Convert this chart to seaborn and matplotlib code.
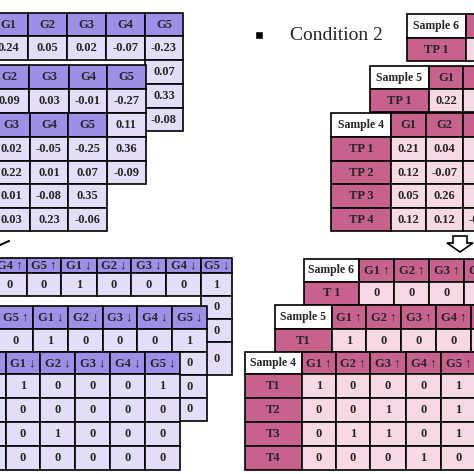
import matplotlib
matplotlib.use("Agg")
import matplotlib.pyplot as plt
import seaborn as sns
from matplotlib.patches import Rectangle, Polygon

sns.set_theme(style="white")
plt.rcParams["font.family"] = ["Liberation Serif", "DejaVu Serif"]

# ---- data ----
genes = ["G1", "G2", "G3", "G4", "G5"]
up = [g + " ↑" for g in genes]
down = [g + " ↓" for g in genes]

c1_s3_vals = [["0.24", "0.05", "0.02", "-0.07", "-0.23"],
              ["", "", "", "", "0.07"],
              ["", "", "", "", "0.33"],
              ["", "", "", "", "-0.08"]]
c1_s2_vals = [["0.09", "0.03", "-0.01", "-0.27"],
              ["", "", "", "0.11"],
              ["", "", "", "0.36"],
              ["", "", "", "-0.09"]]
c1_s1_vals = [["0.02", "-0.05", "-0.25"],
              ["0.22", "0.01", "0.07"],
              ["0.01", "-0.08", "0.35"],
              ["0.03", "0.23", "-0.06"]]

c1_b3_vals = [["0", "0", "1", "0", "0", "0", "1"],
              ["", "", "", "", "", "", "0"],
              ["", "", "", "", "", "", "0"],
              ["", "", "", "", "", "", "0"]]
c1_b2_vals = [["0", "1", "0", "0", "0", "1"],
              ["", "", "", "", "", "0"],
              ["", "", "", "", "", "0"],
              ["", "", "", "", "", "0"]]
c1_b1_vals = [["", "1", "0", "0", "0", "1"],
              ["", "0", "0", "0", "0", "0"],
              ["", "0", "1", "0", "0", "0"],
              ["", "0", "0", "0", "0", "0"]]

tp_labels = ["TP 1", "TP 2", "TP 3", "TP 4"]
t_labels = ["T1", "T2", "T3", "T4"]
c2_s6_vals = [[""]]
c2_s5_vals = [["0.22", ""]]
c2_s4_vals = [["0.21", "0.04", ""],
              ["0.12", "-0.07", ""],
              ["0.05", "0.26", ""],
              ["0.12", "0.12", "-0.05"]]
c2_b6_vals = [["0", "0", "0", ""]]
c2_b5_vals = [["1", "0", "0", "0", ""]]
c2_b4_vals = [["1", "0", "0", "0", "1"],
              ["0", "0", "1", "0", "1"],
              ["0", "1", "1", "0", "1"],
              ["0", "0", "0", "1", "0"]]

purple_hdr = "#9d8ee6"
purple_cell = "#e4ddf7"
pink_hdr = "#c6628c"
pink_cell = "#f6d9e5"
FS = 9


def cell(ax, x0, x1, y0, y1, color, text, fs=FS):
    ax.add_patch(Rectangle((x0, y0), x1 - x0, y1 - y0, facecolor=color,
                           edgecolor="black", lw=1.2))
    if text:
        ax.text((x0 + x1) / 2, (y0 + y1) / 2, text, ha="center", va="center",
                fontsize=fs, fontweight="bold", clip_on=True)


def table(ax, xs, ys, header, vals, hdr, light, corner=None, rowlab=None):
    # optional corner + row-label column at xs[0]..xs[1]
    off = 0
    if corner is not None:
        cell(ax, xs[0], xs[1], ys[0], ys[1], "white", corner, fs=8.5)
        for r, lab in enumerate(rowlab):
            cell(ax, xs[0], xs[1], ys[r + 1], ys[r + 2], hdr, lab)
        off = 1
    for c, h in enumerate(header):
        cell(ax, xs[c + off], xs[c + off + 1], ys[0], ys[1], hdr, h)
    for r, row in enumerate(vals):
        hidden = corner is None and r > 0 and row.count("") == len(row) - 1
        for c, v in enumerate(row):
            # cells covered by the table in front are not drawn
            if hidden and c < len(row) - 1:
                continue
            cell(ax, xs[c + off], xs[c + off + 1], ys[r + 1], ys[r + 2], light, v)


fig = plt.figure(figsize=(4.74, 4.74), dpi=100)
ax = fig.add_axes([0, 0, 1, 1])
ax.set_xlim(0, 474)
ax.set_ylim(474, 0)
ax.axis("off")

# condition 1 values (purple)
table(ax, [-11, 28, 67, 106, 145, 183], [13, 36, 60, 84, 108, 131],
      genes, c1_s3_vals, purple_hdr, purple_cell)
table(ax, [-10, 29, 69, 107, 146], [65, 89, 113, 137, 161, 184],
      genes[1:], c1_s2_vals, purple_hdr, purple_cell)
table(ax, [-8, 30, 68, 107], [113, 137, 161, 184, 208, 231],
      genes[2:], c1_s1_vals, purple_hdr, purple_cell)

# condition 1 binary (purple)
table(ax, [-8, 27, 61, 97, 131, 166, 201, 232], [258, 273, 296, 319, 342, 375],
      [up[3], up[4]] + down, c1_b3_vals, purple_hdr, purple_cell)
table(ax, [-2, 33, 68, 103, 137, 172, 207], [306, 329, 352, 375, 398, 421],
      [up[4]] + down, c1_b2_vals, purple_hdr, purple_cell)
table(ax, [-29, 6, 40, 75, 110, 145, 180], [352, 374, 398, 422, 446, 470],
      [""] + down, c1_b1_vals, purple_hdr, purple_cell)

# condition 2 title
ax.add_patch(Rectangle((255, 31), 8, 8, facecolor="black"))
ax.text(290, 35, "Condition 2", fontsize=14, va="center", ha="left")

# condition 2 values (pink)
table(ax, [407, 466, 500], [14, 38, 61], ["G1"], c2_s6_vals, pink_hdr, pink_cell,
      corner="Sample 6", rowlab=["TP 1"])
table(ax, [370, 429, 463, 500], [66, 89, 112], ["G1", "G2"], c2_s5_vals, pink_hdr, pink_cell,
      corner="Sample 5", rowlab=["TP 1"])
table(ax, [331, 391, 426, 463, 500], [113, 137, 161, 184, 208, 231], ["G1", "G2", "G3"],
      c2_s4_vals, pink_hdr, pink_cell, corner="Sample 4", rowlab=tp_labels)

# arrows
ax.add_patch(Polygon([[453, 236], [467, 236], [467, 243], [473, 243], [460, 252],
                      [447, 243], [453, 243]], closed=True, facecolor="white",
                     edgecolor="black", lw=1.2))
ax.plot([0, 9], [245, 241], color="black", lw=1.5)

# condition 2 binary (pink)
table(ax, [304, 359, 394, 429, 464, 500], [259, 282, 305], up[:4], c2_b6_vals,
      pink_hdr, pink_cell, corner="Sample 6", rowlab=["T 1"])
table(ax, [275, 332, 366, 401, 436, 471, 505], [305, 329, 352], up, c2_b5_vals,
      pink_hdr, pink_cell, corner="Sample 5", rowlab=["T1"])
table(ax, [245, 302, 336, 370, 406, 441, 476], [352, 374, 398, 422, 446, 470], up,
      c2_b4_vals, pink_hdr, pink_cell, corner="Sample 4", rowlab=t_labels)

fig.savefig("out.png", dpi=100)
